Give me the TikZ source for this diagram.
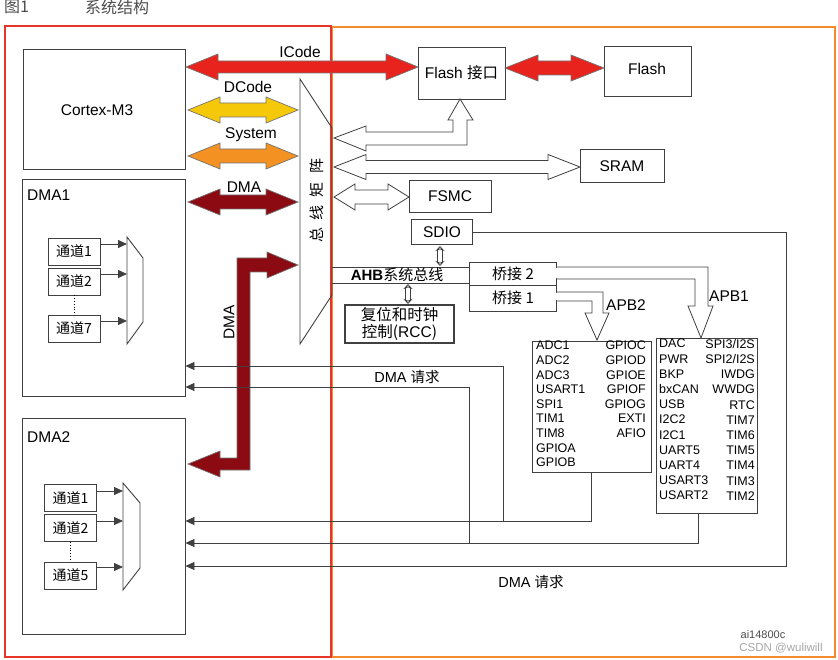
\documentclass[tikz,border=0pt]{standalone}
\usepackage{fontspec}
\setmainfont{Liberation Sans}
\newfontfamily\cjk{Noto Sans CJK SC}
\usetikzlibrary{arrows.meta}
\definecolor{icode}{HTML}{E8231E}
\definecolor{dcode}{HTML}{F6C80A}
\definecolor{sysbus}{HTML}{F39222}
\definecolor{dmabus}{HTML}{8C0A12}
\definecolor{framered}{HTML}{E8352A}
\definecolor{frameorange}{HTML}{F58A2C}
\tikzset{>=Triangle}
\tikzset{
  box/.style={draw=black!75, line width=0.9pt, inner sep=0pt},
  chan/.style={box, minimum width=52, minimum height=27, font=\cjk\fontsize{14}{14}\selectfont},
  lbl/.style={font=\fontsize{15.5}{15.5}\selectfont, inner sep=0pt},
  req/.style={draw=black!75, line width=0.8pt},
  reqarrow/.style={req, -{Triangle[length=9pt,width=8pt]}},
  hollow/.style={draw=black!75, fill=white, line width=0.8pt},
  apbtext/.style={font=\fontsize{12.5}{14.6}\selectfont, inner sep=0pt, anchor=north}
}
% horizontal double arrow: x1, x2, y, half shaft, half head, head length, fill
\newcommand\busarrow[7]{%
  \filldraw[fill=#7, draw=black!55, line width=0.7pt]
    (#1,#3) -- ({#1+#6},{#3-#5}) -- ({#1+#6},{#3-#4}) -- ({#2-#6},{#3-#4})
    -- ({#2-#6},{#3-#5}) -- (#2,#3) -- ({#2-#6},{#3+#5}) -- ({#2-#6},{#3+#4})
    -- ({#1+#6},{#3+#4}) -- ({#1+#6},{#3+#5}) -- cycle;}
\newcommand\hollowarrow[6]{%
  \filldraw[hollow]
    (#1,#3) -- ({#1+#6},{#3-#5}) -- ({#1+#6},{#3-#4}) -- ({#2-#6},{#3-#4})
    -- ({#2-#6},{#3-#5}) -- (#2,#3) -- ({#2-#6},{#3+#5}) -- ({#2-#6},{#3+#4})
    -- ({#1+#6},{#3+#4}) -- ({#1+#6},{#3+#5}) -- cycle;}
\begin{document}
\begin{tikzpicture}[x=1pt,y=-1pt]
\useasboundingbox (0,0) rectangle (838,660);
% title
\node[font=\cjk\fontsize{16}{16}\selectfont, text=black!70, anchor=west, inner sep=0] (fig) at (4,7) {图1};
\node[font=\cjk\fontsize{16}{16}\selectfont, text=black!70, anchor=west, inner sep=0] (title) at (85,7) {系统结构};
% frames
\draw[frameorange, line width=1.5pt] (332,27) rectangle (835,657);
\draw[framered, line width=1.5pt] (5,26) rectangle (331,657);

% left blocks
\node[box, minimum width=162, minimum height=120] (cortex) at (104,109) {};
\node[lbl] at (97,110) {Cortex-M3};
\node[box, minimum width=163, minimum height=217] (dma1) at (103.5,287.5) {};
\node[lbl, anchor=west] (dma1lbl) at (27,195) {DMA1};
\node[box, minimum width=163, minimum height=216] (dma2) at (103.5,526) {};
\node[lbl, anchor=west] (dma2lbl) at (27,437) {DMA2};

% DMA1 channels and mux
\node[chan] (c11) at (74,251.5) {通道1};
\node[chan] (c12) at (74,281.5) {通道2};
\node[chan] (c17) at (74,328.5) {通道7};
\draw[dotted, line width=0.8pt] (c12.south) -- (c17.north);
\draw[box] (127,237) -- (143,258) -- (143,322) -- (127,344) -- cycle;
\foreach \c/\y in {c11/244,c12/274,c17/321}
  \draw[req, -{Triangle[length=9pt,width=8pt]}] (\c.east |- 0,\y) -- (127,\y);
% DMA2 channels and mux
\node[chan] (c21) at (70.5,498) {通道1};
\node[chan] (c22) at (70.5,528) {通道2};
\node[chan] (c25) at (70.5,575.5) {通道5};
\draw[dotted, line width=0.8pt] (c22.south) -- (c25.north);
\draw[box] (123,483) -- (140,503) -- (140,568) -- (123,590) -- cycle;
\foreach \c/\y in {c21/491,c22/521,c25/567}
  \draw[req, -{Triangle[length=9pt,width=8pt]}] (\c.east |- 0,\y) -- (123,\y);

% bus matrix
\draw[box] (300,79) -- (332,128) -- (332,295) -- (300,344) -- cycle;
\node[font=\cjk\fontsize{15}{15}\selectfont, rotate=90, inner sep=0] (matrix) at (317,201) {总\hspace{8pt}线\hspace{8pt}矩\hspace{8pt}阵};

% buses from cortex
\busarrow{186}{418}{67}{6}{13}{32}{icode}
\node[lbl] (icodelbl) at (300,52) {ICode};
\busarrow{188}{298}{110}{7}{13}{32}{dcode}
\node[lbl] (dcodelbl) at (248,87) {DCode};
\busarrow{188}{298}{156}{7}{13}{32}{sysbus}
\node[lbl] (syslbl) at (251,135) {System};
\busarrow{188}{298}{202}{7}{13}{32}{dmabus}
\node[lbl] (dmalbl) at (244,187) {DMA};
% DMA2 path
\filldraw[fill=dmabus, draw=black!55, line width=0.7pt]
  (298,265) -- (267,252) -- (267,258) -- (237,258) -- (237,458) -- (220,458)
  -- (220,451) -- (188,464) -- (220,477) -- (220,470) -- (250,470) -- (250,272)
  -- (267,272) -- (267,278) -- cycle;
\node[lbl, rotate=90] (dma2path) at (229,322) {DMA};

% right side
\node[box, minimum width=87, minimum height=52] (flashif) at (461.5,73) {};
\node[lbl] at (461.5,73) {Flash {\cjk 接口}};
\node[box, minimum width=87, minimum height=50] (flash) at (647.5,71) {};
\node[lbl] at (647,69) {Flash};
\busarrow{505}{604}{68}{7}{13}{33}{icode}
\node[box, minimum width=84, minimum height=33] (sram) at (622,166) {};
\node[lbl] at (622,166) {SRAM};
\node[box, minimum width=82, minimum height=32] (fsmc) at (450,196) {};
\node[lbl] at (450,196) {FSMC};
\node[box, minimum width=61, minimum height=25] (sdio) at (442,232) {};
\node[lbl] at (442,232) {SDIO};
\filldraw[hollow] (334,138) -- (366,126) -- (366,132) -- (453,132) -- (453,120)
  -- (448,120) -- (460,99) -- (473,120) -- (467,120) -- (467,145) -- (366,145)
  -- (366,151) -- cycle;
\hollowarrow{334}{580}{167}{6.5}{12.5}{32}
\hollowarrow{334}{409}{197}{7}{13}{21}

% AHB
\node[box, minimum width=87, minimum height=23] (bridge2) at (513,273.5) {};
\node[lbl, font=\cjk\fontsize{15}{15}\selectfont] at (513,273.5) {桥接 2};
\node[box, minimum width=87, minimum height=26] (bridge1) at (513,298) {};
\node[lbl, font=\cjk\fontsize{15}{15}\selectfont] at (513,298) {桥接 1};
\draw[req] (332,267) -- (bridge2.west |- 0,267);
\draw[req] (332,283) -- (bridge2.west |- 0,283);
\node[inner sep=0, font=\bfseries\fontsize{15}{15}\selectfont] (ahb) at (397,275) {AHB{\cjk\mdseries 系统总线}};
\node[box, line width=1.6pt, minimum width=109, minimum height=38, align=center,
  font=\cjk\fontsize{15.5}{17}\selectfont] (rcc) at (399.5,324) {复位和时钟\\控制({\rmfamily RCC})};
\draw[line width=0.8pt, black!75, {Stealth[open,length=5pt,width=9pt]}-{Stealth[open,length=5pt,width=9pt]}, double=white, double distance=4pt] (440,246) -- (440,266);
\draw[line width=0.8pt, black!75, {Stealth[open,length=5pt,width=9pt]}-{Stealth[open,length=5pt,width=9pt]}, double=white, double distance=4pt] (408,284) -- (408,304);

% APB buses
\filldraw[hollow] (bridge1.east |- 0,292) -- (603,292) -- (603,313) -- (609,313) -- (597,340)
  -- (585,313) -- (592,313) -- (592,301) -- (bridge1.east |- 0,301);
\draw[white, line width=1.5pt] (bridge1.east |- 0,293) -- (bridge1.east |- 0,300);
\node[lbl] (apb2lbl) at (626,305) {APB2};
\filldraw[hollow] (bridge2.east |- 0,267) -- (708,267) -- (708,306) -- (713,306) -- (701,338)
  -- (688,306) -- (695,306) -- (695,279) -- (bridge2.east |- 0,279);
\draw[white, line width=1.5pt] (bridge2.east |- 0,268) -- (bridge2.east |- 0,278);
\node[lbl] (apb1lbl) at (729,296) {APB1};

\node[box, minimum width=119, minimum height=131] (apb2) at (591.5,406.5) {};
\node[apbtext, anchor=north west, align=left] at (536,341) {ADC1\\ADC2\\ADC3\\USART1\\SPI1\\TIM1\\TIM8\\GPIOA\\GPIOB};
\node[apbtext, anchor=north east, align=right] at (646,341) {GPIOC\\GPIOD\\GPIOE\\GPIOF\\GPIOG\\EXTI\\AFIO};
\node[box, minimum width=101, minimum height=175] (apb1) at (706.5,425.5) {};
\node[apbtext, anchor=north west, align=left, font=\fontsize{12.5}{15.2}\selectfont] at (659,339) {DAC\\PWR\\BKP\\bxCAN\\USB\\I2C2\\I2C1\\UART5\\UART4\\USART3\\USART2};
\node[apbtext, anchor=north east, align=right, font=\fontsize{12.5}{15.2}\selectfont] at (755,339) {SPI3/I2S\\SPI2/I2S\\IWDG\\WWDG\\RTC\\TIM7\\TIM6\\TIM5\\TIM4\\TIM3\\TIM2};

% DMA requests
\coordinate (j1) at (503,521);
\coordinate (j2) at (469,543);
\draw[reqarrow] (j1) |- (dma1.east |- 0,366);
\draw[reqarrow] (j2) |- (dma1.east |- 0,387);
\draw[reqarrow] (apb2.south -| j1.east) ++(88,0) |- (dma2.east |- 0,521);
\draw[reqarrow] (apb1.south) ++(-8,0) |- (dma2.east |- 0,543);
\draw[reqarrow] (sdio.east) -| (786,566) -- (dma2.east |- 0,566);
\node[lbl, font=\fontsize{14.5}{14.5}\selectfont] (req1) at (407,377) {DMA {\cjk 请求}};
\node[lbl, font=\fontsize{14.5}{14.5}\selectfont] (req2) at (531,582) {DMA {\cjk 请求}};

\node[inner sep=0, font=\fontsize{11}{11}\selectfont, text=black!70] (ai) at (763,635) {ai14800c};
\node[inner sep=0, font=\fontsize{11.5}{11.5}\selectfont, text=black!35] (csdn) at (781,648) {CSDN @wuliwill};
\end{tikzpicture}
\end{document}
